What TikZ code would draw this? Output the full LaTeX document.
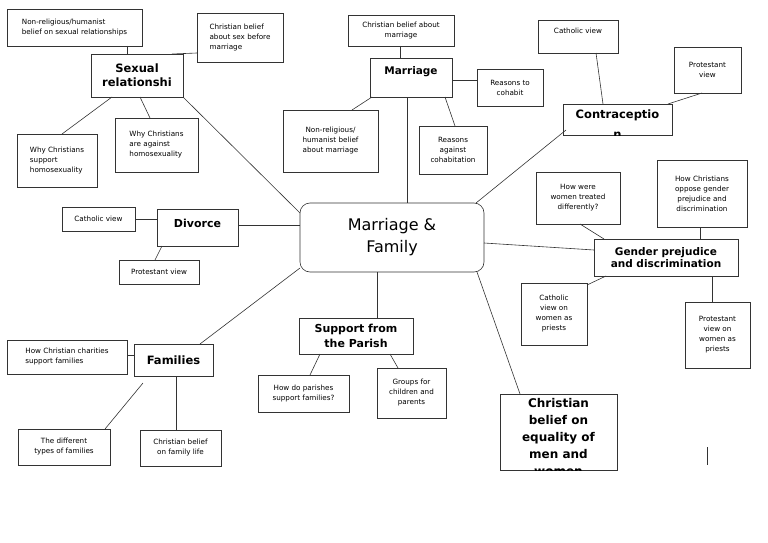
\documentclass[tikz,border=0pt]{standalone}
\usepackage{fontspec}
\setmainfont{DejaVu Sans}
\begin{document}
\begin{tikzpicture}[x=1pt,y=-1pt,
  sm/.style={font=\fontsize{7.2}{10}\selectfont,align=center,inner sep=2pt},
  bg/.style={font=\fontsize{10.5}{12.5}\bfseries\selectfont,align=center,inner sep=2pt},
  ln/.style={draw=black!80,line width=0.6pt}]
\useasboundingbox (0,0) rectangle (768,543);
\def\B#1#2#3#4#5#6#7{\draw[ln,fill=white] (#2,#3) rectangle (#4,#5) node[pos=0.5,#6] (#1) {#7};}
\B{nr}{7}{9}{142}{46}{sm,align=left}{Non-religious/humanist\\belief on sexual relationships}
\B{cs}{197}{13}{283}{62}{sm,align=left}{Christian belief\\about sex before\\marriage}
\B{sr}{91}{54}{183}{97}{bg,font=\fontsize{11.5}{14}\bfseries\selectfont}{Sexual\\relationshi}
\B{ws}{17}{134}{97}{187}{sm,align=left}{Why Christians\\support\\homosexuality}
\B{wa}{115}{118}{198}{172}{sm,align=left}{Why Christians\\are against\\homosexuality}
\B{cm}{348}{15}{454}{46}{sm}{Christian belief about\\marriage}
\B{ma}{370}{58}{452}{97}{bg,yshift=6pt}{Marriage}
\B{rc}{477}{69}{543}{106}{sm}{Reasons to\\cohabit}
\B{nm}{283}{110}{378}{172}{sm}{Non-religious/\\humanist belief\\about marriage}
\B{ra}{419}{126}{487}{174}{sm}{Reasons\\against\\cohabitation}
\B{cv}{538}{20}{618}{53}{sm,yshift=6pt}{Catholic view}
\B{pv}{674}{47}{741}{93}{sm}{Protestant\\view}
\draw[ln,fill=white] (563,104) rectangle (672,135);
\begin{scope}\clip (563,104) rectangle (672,135);
\node[font=\fontsize{11.5}{20}\bfseries\selectfont,align=center,anchor=north] at (617.5,106) {Contraceptio\\n};\end{scope}
\coordinate (co) at (617.5,119.5);
\B{dc}{62}{207}{135}{231}{sm}{Catholic view}
\B{dv}{157}{209}{238}{246}{bg,font=\fontsize{11}{13}\bfseries\selectfont,yshift=4pt}{Divorce}
\B{dp}{119}{260}{199}{284}{sm}{Protestant view}
\draw[ln,fill=white,rounded corners=10pt] (300,203) rectangle (484,272) node[pos=0.5,font=\fontsize{16}{22}\selectfont,align=center] (mf) {Marriage \&\\Family};
\B{hw}{536}{172}{620}{224}{sm}{How were\\women treated\\differently?}
\B{ho}{657}{160}{747}{227}{sm}{How Christians\\oppose gender\\prejudice and\\discrimination}
\B{gp}{594}{239}{738}{276}{bg}{Gender prejudice\\and discrimination}
\B{cw}{521}{283}{587}{345}{sm}{Catholic\\view on\\women as\\priests}
\B{pw}{685}{302}{750}{368}{sm}{Protestant\\view on\\women as\\priests}
\B{hc}{7}{340}{127}{374}{sm,align=left}{How Christian charities\\support families}
\B{fa}{134}{344}{213}{376}{bg,font=\fontsize{11.5}{14}\bfseries\selectfont}{Families}
\B{sp}{299}{318}{413}{354}{bg,font=\fontsize{11}{15}\bfseries\selectfont}{Support from\\the Parish}
\B{hd}{258}{375}{349}{412}{sm}{How do parishes\\support families?}
\B{gr}{377}{368}{446}{418}{sm}{Groups for\\children and\\parents}
\draw[ln,fill=white] (500,394) rectangle (617,470);
\begin{scope}\clip (500,394) rectangle (617,470);
\node[anchor=north,align=center,font=\fontsize{12}{17}\bfseries\selectfont] at (558.5,395) {Christian\\belief on\\equality of\\men and\\women};\end{scope}
\coordinate (ce) at (520,394);
\B{td}{18}{429}{110}{465}{sm}{The different\\types of families}
\B{fl}{140}{430}{221}{466}{sm}{Christian belief\\on family life}
\draw[ln] (707,447) -- (707,465);
% connectors
\coordinate (a1) at (127,46); \coordinate (a2) at (127,54); \draw[ln] (a1)--(a2);
\coordinate (a3) at (197,53); \coordinate (a4) at (172,54); \draw[ln] (a3)--(a4);
\coordinate (b1) at (112,97); \coordinate (b2) at (62,134); \draw[ln] (b1)--(b2);
\coordinate (b3) at (140,97); \coordinate (b4) at (150,118); \draw[ln] (b3)--(b4);
\coordinate (b5) at (183,97); \coordinate (m1) at (300,213); \draw[ln] (b5)--(m1);
\coordinate (c1) at (407,97); \coordinate (m2) at (407,203); \draw[ln] (c1)--(m2);
\coordinate (c2) at (400,46); \coordinate (c3) at (400,58); \draw[ln] (c2)--(c3);
\coordinate (c4) at (452,80); \coordinate (c5) at (477,80); \draw[ln] (c4)--(c5);
\coordinate (c6) at (372,97); \coordinate (c7) at (352,110); \draw[ln] (c6)--(c7);
\coordinate (c8) at (445,97); \coordinate (c9) at (455,126); \draw[ln] (c8)--(c9);
\coordinate (d1) at (566,130); \coordinate (m3) at (476,203); \draw[ln] (d1)--(m3);
\coordinate (d2) at (596,53); \coordinate (d3) at (603,104); \draw[ln] (d2)--(d3);
\coordinate (d4) at (702,93); \coordinate (d5) at (668,104); \draw[ln] (d4)--(d5);
\coordinate (e1) at (238,225); \coordinate (m4) at (300,225); \draw[ln] (e1)--(m4);
\coordinate (e2) at (135,219); \coordinate (e3) at (157,219); \draw[ln] (e2)--(e3);
\coordinate (e4) at (162,246); \coordinate (e5) at (155,260); \draw[ln] (e4)--(e5);
\coordinate (m5) at (484,243); \coordinate (f1) at (594,250); \draw[ln] (m5)--(f1);
\coordinate (f2) at (580,224); \coordinate (f3) at (604,239); \draw[ln] (f2)--(f3);
\coordinate (f4) at (700,227); \coordinate (f5) at (700,239); \draw[ln] (f4)--(f5);
\coordinate (f6) at (606,276); \coordinate (f7) at (587,285); \draw[ln] (f6)--(f7);
\coordinate (f8) at (712,276); \coordinate (f9) at (712,302); \draw[ln] (f8)--(f9);
\coordinate (m6) at (300,268); \coordinate (g1) at (200,344); \draw[ln] (m6)--(g1);
\coordinate (g2) at (127,355); \coordinate (g3) at (134,355); \draw[ln] (g2)--(g3);
\coordinate (g4) at (143,383); \coordinate (g5) at (105,429); \draw[ln] (g4)--(g5);
\coordinate (g6) at (176,376); \coordinate (g7) at (176,430); \draw[ln] (g6)--(g7);
\coordinate (m7) at (377,272); \coordinate (h1) at (377,318); \draw[ln] (m7)--(h1);
\coordinate (h2) at (320,354); \coordinate (h3) at (310,375); \draw[ln] (h2)--(h3);
\coordinate (h4) at (390,354); \coordinate (h5) at (398,368); \draw[ln] (h4)--(h5);
\coordinate (m8) at (477,272); \draw[ln] (m8)--(ce);
\end{tikzpicture}
\end{document}
